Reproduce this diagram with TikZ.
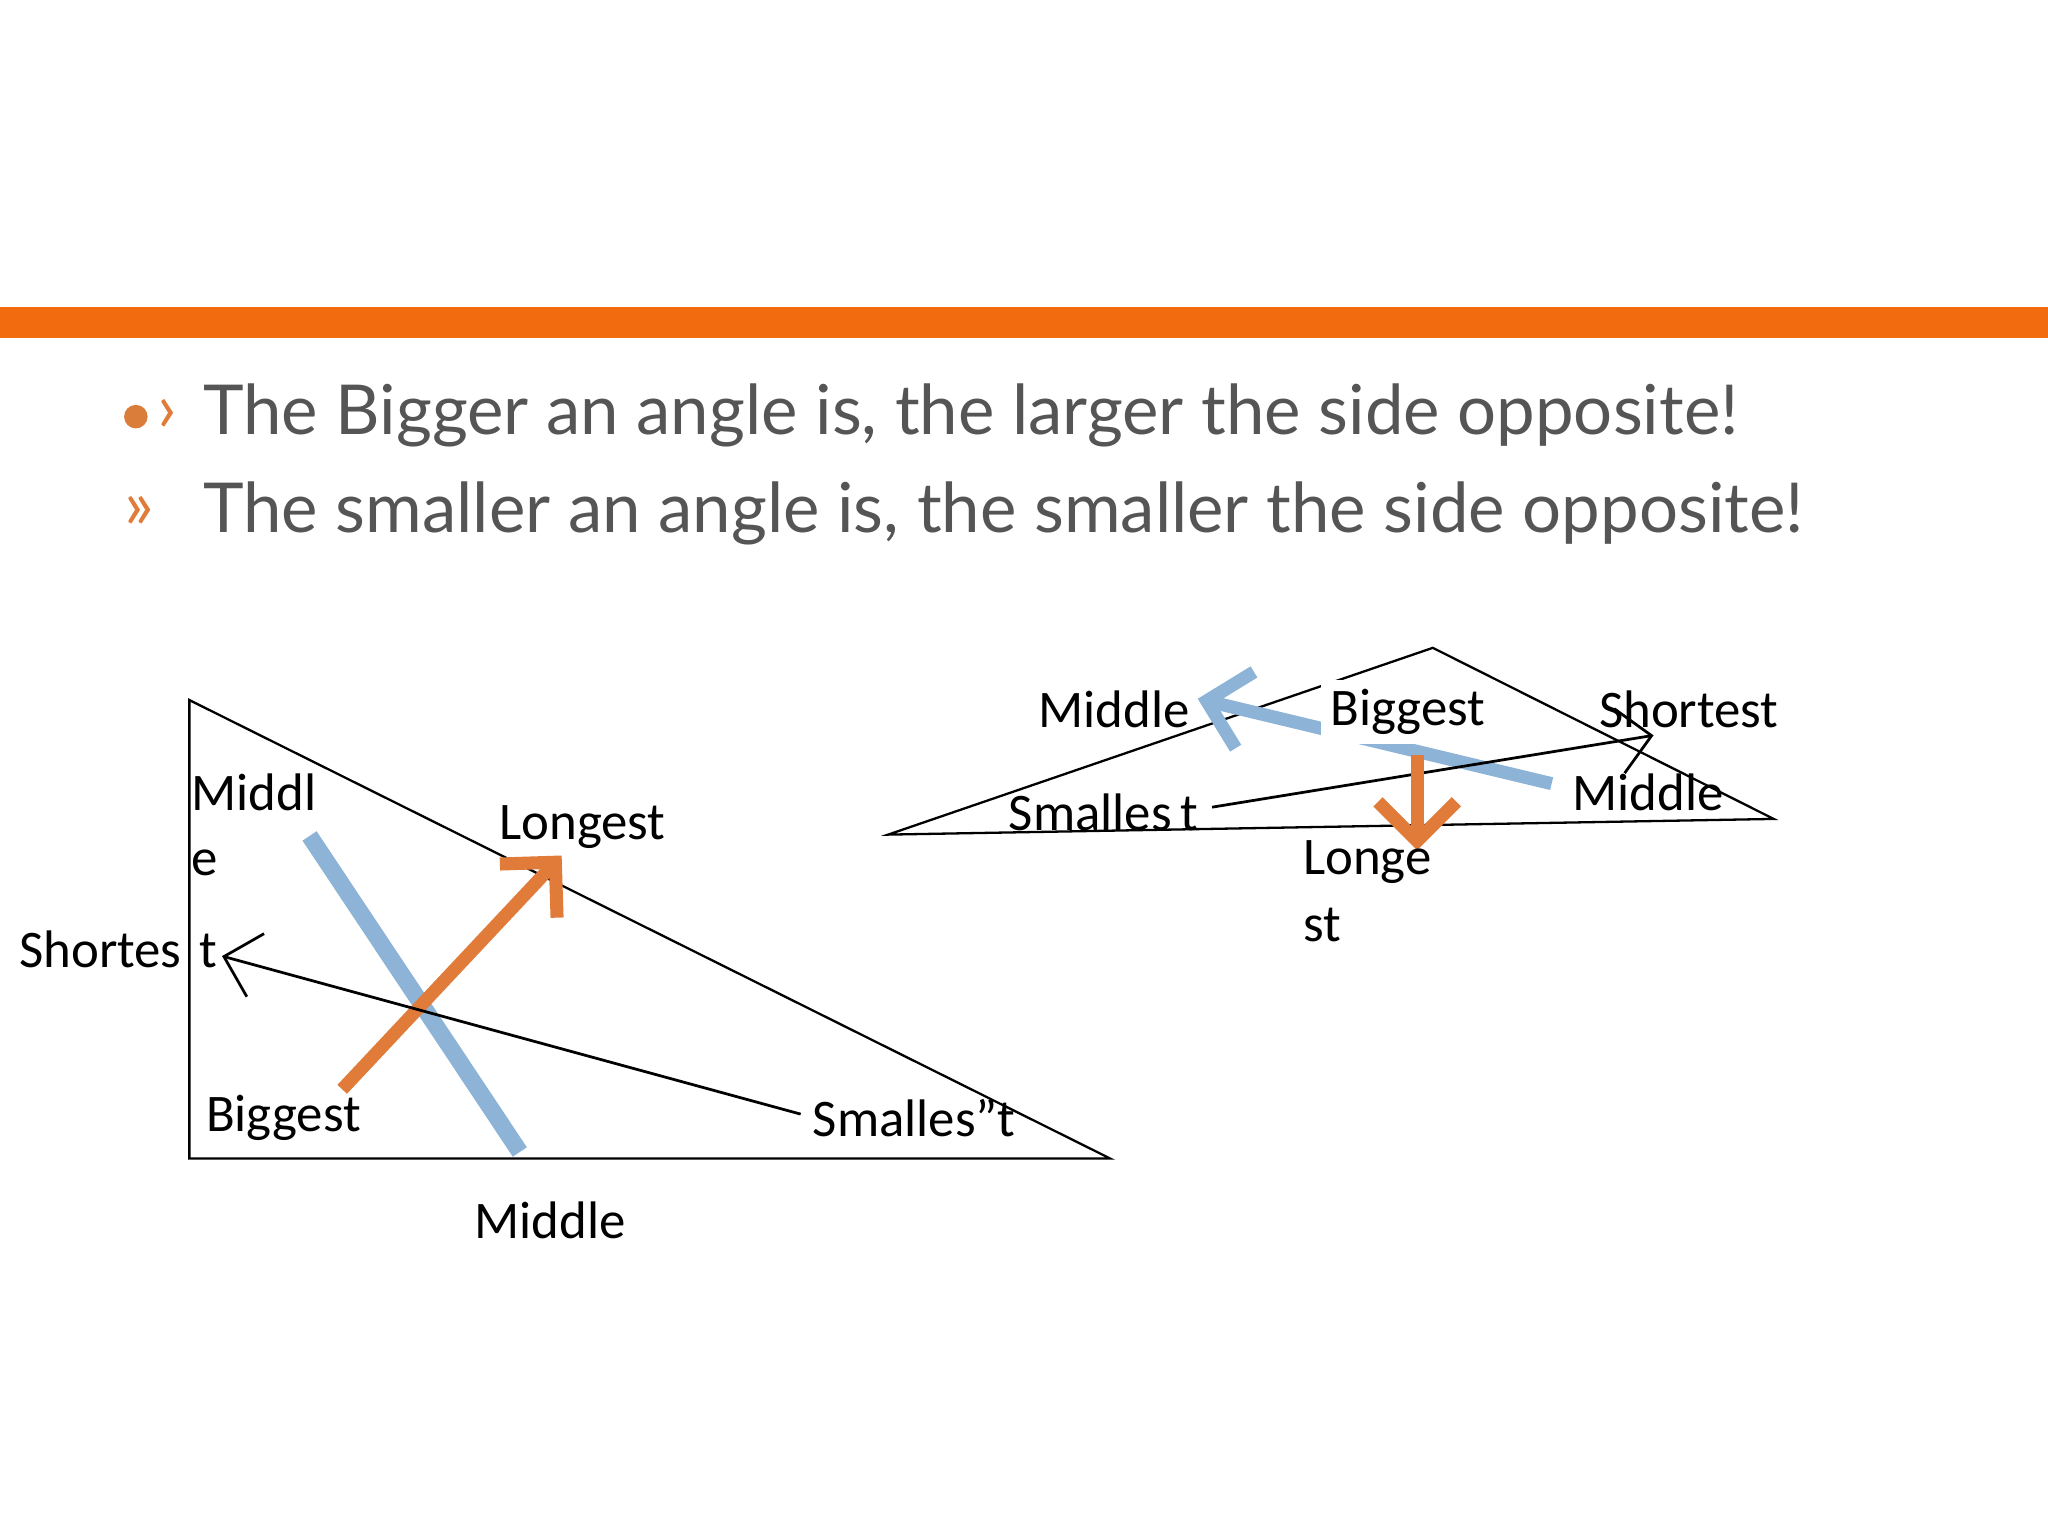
\documentclass[tikz,border=0pt]{standalone}
\usepackage{fontspec}
\setmainfont{Carlito}
\newfontfamily\latofont{Lato}
\usetikzlibrary{arrows.meta}
\definecolor{barorange}{HTML}{F26B0F}
\definecolor{txtgray}{HTML}{555555}
\definecolor{lblue}{HTML}{8DB4D7}
\definecolor{lorange}{HTML}{E07B39}
\tikzset{
  tri/.style={draw=black,line width=0.5pt},
  lbl/.style={font=\fontsize{11.5}{13}\selectfont,inner sep=0pt},
  bullettxt/.style={font=\latofont\fontsize{15}{18}\selectfont,text=txtgray,anchor=base west,inner sep=0pt},
  bluel/.style={draw=lblue,line width=1.3mm},
  orangel/.style={draw=lorange,line width=1mm},
  blk/.style={draw=black,line width=0.6pt,-{Straight Barb[length=2.5mm]}}
}
\begin{document}
\begin{tikzpicture}[x=0.01cm,y=-0.01cm]
\useasboundingbox (0,0) rectangle (1568,1176);
\fill[barorange] (0,235) rectangle (1568,259);
% bullets
\node[bullettxt] (b1) at (155,333) {The Bigger an angle is, the larger the side opposite!};
\node[bullettxt] (b2) at (155,408) {The smaller an angle is, the smaller the side opposite!};
\fill[lorange!80!brown] (104,319) circle (9);
\node[bullettxt,text=lorange] (m1) at (120,330) {›};
\node[bullettxt,text=lorange] (m2) at (95,405) {»};
% left triangle
\coordinate (A) at (145,536); \coordinate (B) at (145,887); \coordinate (C) at (850,887);
\draw[tri] (A) -- (B) -- (C) -- cycle;
\coordinate (bl1) at (237,640); \coordinate (bl2) at (398,882);
\draw[bluel] (bl1) -- (bl2);
\coordinate (or1) at (262,834); \coordinate (or2) at (430,655);
\draw[orangel,-{Straight Barb[length=3mm]}] (or1) -- (or2);
\coordinate (bk1) at (613,853); \coordinate (bk2) at (170,732);
\draw[blk] (bk1) -- (bk2);
\node[lbl,anchor=west] (l1) at (146,607) {Middl};
\node[lbl,anchor=west] (l2) at (146,661) {e};
\node[lbl] (l3) at (446,633) {Longest};
\node[lbl,anchor=west] (l4) at (14,727) {Shortes\,\,t};
\node[lbl] (l5) at (217,856) {Biggest};
\node[lbl] (l6) at (700,856) {Smalles”t};
\node[lbl] (l7) at (421,934) {Middle};
% right triangle
\coordinate (P) at (680,639); \coordinate (Q) at (1097,496); \coordinate (R) at (1358,627);
\draw[tri] (P) -- (Q) -- (R) -- cycle;
\coordinate (rb1) at (1188,600); \coordinate (rb2) at (917,535);
\draw[bluel,line width=1mm,-{Straight Barb[length=3mm]}] (rb1) -- (rb2);
\coordinate (rk1) at (928,618); \coordinate (rk2) at (1266,563);
\draw[blk] (rk1) -- (rk2);
\node[lbl] (r1) at (853,543) {Middle};
\node[lbl,fill=white,inner sep=2pt] (r2) at (1078,545) {Biggest};
\coordinate (ro1) at (1085,578); \coordinate (ro2) at (1085,651);
\draw[orangel,-{Straight Barb[length=3mm]}] (ro1) -- (ro2);
\node[lbl] (r3) at (1293,543) {Shortest};
\node[lbl] (r4) at (845,622) {Smalles\,t};
\node[lbl] (r5) at (1262,607) {Middle};
\node[lbl,anchor=west] (r6) at (997,660) {Longe};
\node[lbl,anchor=west] (r7) at (997,708) {st};
\end{tikzpicture}
\end{document}
